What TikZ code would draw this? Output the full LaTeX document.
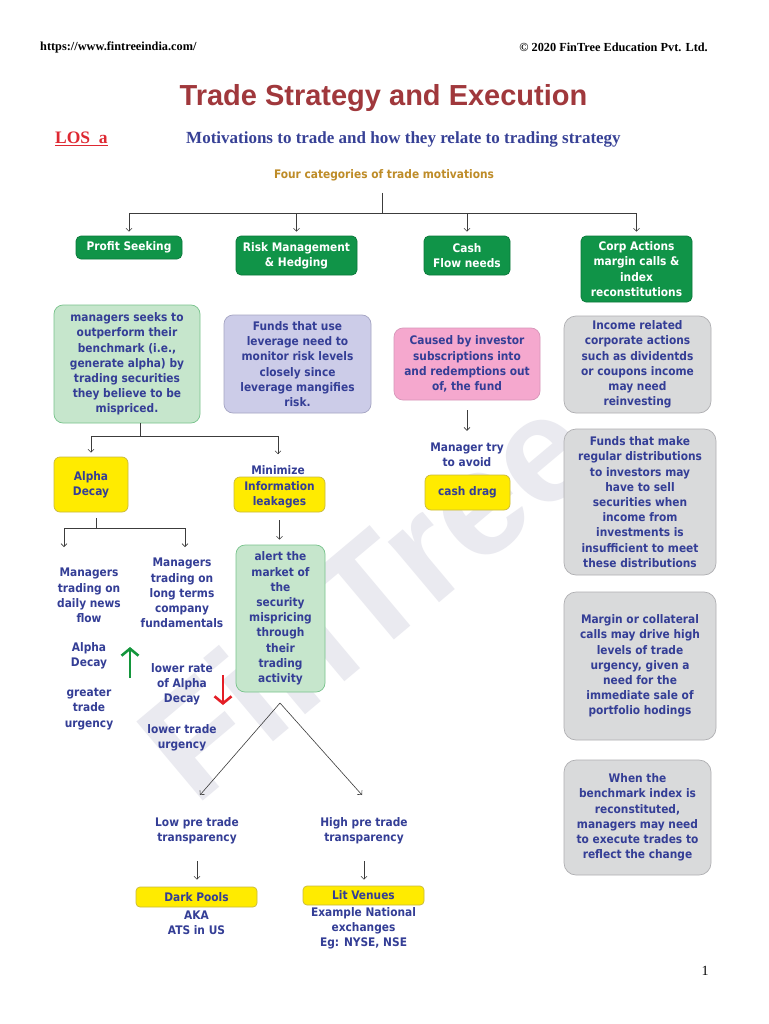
\documentclass[tikz,border=0pt]{standalone}
\usepackage{fontspec}
\setmainfont{Liberation Serif}
\newfontfamily\bxf{DejaVu Sans Condensed}
\newfontfamily\arialf{Liberation Sans}
\usetikzlibrary{arrows.meta}
\definecolor{navy}{RGB}{52,62,150}
\definecolor{titlered}{RGB}{160,56,60}
\definecolor{losred}{RGB}{222,40,50}
\definecolor{motblue}{RGB}{55,65,150}
\definecolor{gold}{RGB}{190,140,40}
\definecolor{hdgreen}{RGB}{16,148,72}
\definecolor{hdgreenD}{RGB}{10,120,58}
\definecolor{lgreen}{RGB}{198,230,204}
\definecolor{lgreenD}{RGB}{120,195,140}
\definecolor{lav}{RGB}{204,204,232}
\definecolor{lavD}{RGB}{165,165,195}
\definecolor{pinkf}{RGB}{245,168,206}
\definecolor{pinkD}{RGB}{215,150,185}
\definecolor{grayf}{RGB}{217,218,219}
\definecolor{grayD}{RGB}{175,175,178}
\definecolor{yel}{RGB}{255,235,0}
\definecolor{yelD}{RGB}{200,185,60}
\definecolor{linegray}{RGB}{60,60,60}
\definecolor{upgreen}{RGB}{20,150,60}
\definecolor{dnred}{RGB}{228,30,38}
\definecolor{wmgray}{RGB}{234,234,240}
\tikzset{
  bodyfont/.style={font=\bxf\bfseries\fontsize{11.8}{15.2}\selectfont},
  txt/.style={bodyfont, text=navy, align=center, inner sep=0pt},
  box/.style={bodyfont, text=navy, align=center, inner sep=0pt, rounded corners=9pt, line width=0.7pt},
  gbox/.style={box, fill=hdgreen, draw=hdgreenD, text=white, rounded corners=5pt},
  lgbox/.style={box, fill=lgreen, draw=lgreenD},
  lavbox/.style={box, fill=lav, draw=lavD},
  pinkbox/.style={box, fill=pinkf, draw=pinkD},
  graybox/.style={box, fill=grayf, draw=grayD, rounded corners=12pt},
  ybox/.style={box, fill=yel, draw=yelD, rounded corners=6pt},
  ln/.style={draw=linegray, line width=0.6pt},
  arr/.style={ln, -{Straight Barb[length=3pt,width=6pt]}},
  hdr/.style={font=\bfseries\fontsize{12.3}{14}\selectfont, inner sep=0pt},
}
\begin{document}
\begin{tikzpicture}[x=1pt,y=-1pt]
\useasboundingbox[fill=white] (0,0) rectangle (768,1024);
% watermark
\node[font=\arialf\bfseries\fontsize{150}{150}\selectfont, text=wmgray, rotate=40, inner sep=0pt] (wm) at (365,595) {FinTree};
% header
\node[hdr, anchor=west] (url) at (40,47) {https://www.fintreeindia.com/};
\node[hdr, anchor=east] (copy) at (708,47) {© 2020 FinTree Education Pvt. Ltd.};
\node[font=\arialf\bfseries\fontsize{29}{32}\selectfont, text=titlered, inner sep=0pt] (title) at (383.5,98) {Trade Strategy and Execution};
\node[font=\bfseries\fontsize{17.5}{19}\selectfont, text=losred, inner sep=0pt, anchor=west] (los) at (55,139) {\underline{LOS\ \ a}};
\node[font=\bfseries\fontsize{17}{19}\selectfont, text=motblue, inner sep=0pt, anchor=west] (mot) at (186,139) {Motivations to trade and how they relate to trading strategy};
\node[bodyfont, text=gold, inner sep=0pt] (cat) at (384,175) {Four categories of trade motivations};
% level 1
\node[gbox, minimum width=106, minimum height=23] (profit) at (129,247.5) {Profit Seeking};
\node[gbox, minimum width=121, minimum height=39] (risk) at (296.5,255.5) {Risk Management\\\& Hedging};
\node[gbox, minimum width=86, minimum height=39] (cash) at (467,255.5) {Cash\\Flow needs};
\node[gbox, minimum width=111, minimum height=66] (corp) at (636.5,269) {Corp Actions\\margin calls \&\\index\\reconstitutions};
% level 2
\node[lgbox, minimum width=146, minimum height=118] (mgr) at (127,364) {managers seeks to\\outperform their\\benchmark (i.e.,\\generate alpha) by\\trading securities\\they believe to be\\mispriced.};
\node[lavbox, minimum width=147, minimum height=98] (lev) at (297.5,364) {Funds that use\\leverage need to\\monitor risk levels\\closely since\\leverage mangifies\\risk.};
\node[pinkbox, minimum width=146, minimum height=72] (subs) at (467,364) {Caused by investor\\subscriptions into\\and redemptions out\\of, the fund};
\node[graybox, minimum width=147, minimum height=97] (inc) at (637.5,364.5) {Income related\\corporate actions\\such as dividentds\\or coupons income\\may need\\reinvesting};
\node[graybox, minimum width=152, minimum height=146] (dist) at (640,502) {Funds that make\\regular distributions\\to investors may\\have to sell\\securities when\\income from\\investments is\\insufficient to meet\\these distributions};
\node[graybox, minimum width=152, minimum height=148] (marg) at (640,666) {Margin or collateral\\calls may drive high\\levels of trade\\urgency, given a\\need for the\\immediate sale of\\portfolio hodings};
\node[graybox, minimum width=147, minimum height=115] (bench) at (637.5,817.5) {When the\\benchmark index is\\reconstituted,\\managers may need\\to execute trades to\\reflect the change};
% cash flow branch
\node[txt] (avoid) at (467,455) {Manager try\\to avoid};
\node[ybox, minimum width=85, minimum height=35] (drag) at (467.5,492.5) {cash drag};
% profit branch
\node[ybox, minimum width=74, minimum height=55] (alpha) at (91,484.5) {Alpha\\Decay};
\node[txt] (minim) at (278,470) {Minimize};
\node[ybox, minimum width=91, minimum height=35] (info) at (279.5,494.5) {Information\\leakages};
\node[lgbox, minimum width=89, minimum height=147] (alert) at (280.5,618.5) {alert the\\market of\\the\\security\\mispricing\\through\\their\\trading\\activity};
\node[txt] (news) at (89,595.5) {Managers\\trading on\\daily news\\flow};
\node[txt] (longt) at (182,593) {Managers\\trading on\\long terms\\company\\fundamentals};
\node[txt] (ad1) at (89,655.5) {Alpha\\Decay};
\node[txt] (urg1) at (89,709) {greater\\trade\\urgency};
\node[txt] (ad2) at (182,684) {lower rate\\of Alpha\\Decay};
\node[txt] (urg2) at (182,737.5) {lower trade\\urgency};
\node[txt] (low) at (197,830.5) {Low pre trade\\transparency};
\node[txt] (high) at (364,830.5) {High pre trade\\transparency};
\node[ybox, minimum width=121, minimum height=20, rounded corners=4pt] (dark) at (196.5,897) {Dark Pools};
\node[txt] (aka) at (196.5,922.5) {AKA\\ATS in US};
\node[ybox, minimum width=121, minimum height=19, rounded corners=4pt] (lit) at (363.5,895.5) {Lit Venues};
\node[txt] (ex) at (363.5,928) {Example National\\exchanges\\Eg: NYSE, NSE};
\node[font=\fontsize{14}{16}\selectfont, inner sep=0pt] (pg) at (705,971) {1};
% connectors top
\coordinate (j0) at (382,193);
\coordinate (j1) at (382,213);
\draw[ln] (j0) -- (j1);
\draw[arr, shorten >=4pt] (j1) -| (profit.north);
\draw[arr, shorten >=4pt] (j1) -| (risk.north);
\draw[arr, shorten >=4pt] (j1) -| (cash.north);
\draw[arr, shorten >=4pt] (j1) -| (corp.north);
% profit tree
\coordinate (j2) at (140,436);
\draw[ln] (mgr.south -| j2) -- (j2);
\draw[arr, shorten >=4pt] (j2) -| (alpha.north);
\draw[arr, shorten >=11pt] (j2) -| (minim.north);
\coordinate (j3) at (96,528);
\draw[ln, shorten <=6pt] (alpha.south -| j3) -- (j3);
\coordinate (t1) at (64,547);
\coordinate (t2) at (185,547);
\draw[arr] (j3) -| (t1);
\draw[arr] (j3) -| (t2);
\draw[arr, shorten <=8pt, shorten >=5pt] (info.south) -- (info.south |- alert.north);
\draw[arr, shorten <=10pt, shorten >=12pt] (subs.south) -- (avoid.north);
% alert split
\coordinate (apex) at (280,703);
\coordinate (l1) at (200,795);
\coordinate (h1) at (362,795);
\draw[arr] (apex) -- (l1);
\draw[arr] (apex) -- (h1);
\draw[arr, shorten <=17pt, shorten >=7pt] (low.south) -- (low.south |- dark.north);
\draw[arr, shorten <=17pt, shorten >=6pt] (high.south) -- (high.south |- lit.north);
% trend arrows
\draw[upgreen, line width=2.6pt, -{Straight Barb[length=7pt,width=17pt]}] (130,678) -- (130,647);
\draw[dnred, line width=2.6pt, -{Straight Barb[length=7pt,width=17pt]}] (223,675) -- (223,705);
\end{tikzpicture}
\end{document}
